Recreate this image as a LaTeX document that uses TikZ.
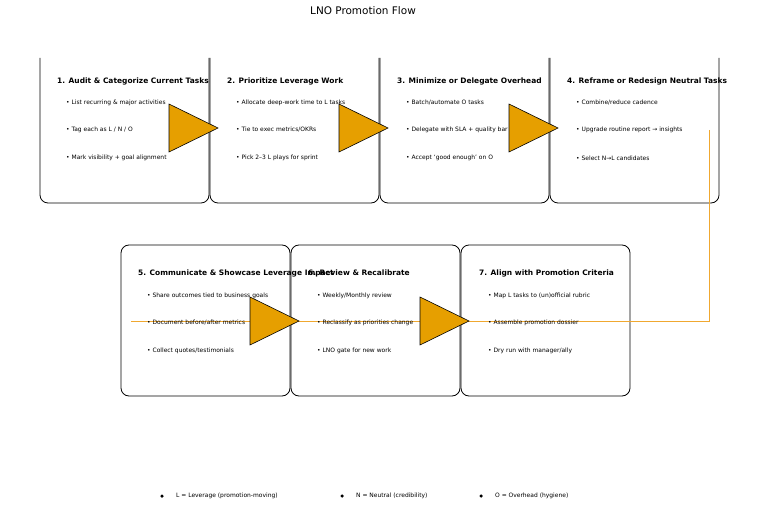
\documentclass[tikz,border=0pt]{standalone}
\usepackage{fontspec}
\setmainfont{DejaVu Sans}
\usetikzlibrary{positioning}
\definecolor{flowor}{HTML}{E69F00}
\definecolor{lineor}{HTML}{F0A830}
\begin{document}
\begin{tikzpicture}[
        x=1bp, y=-1bp,
        stepbox/.style = {draw, line width=0.8pt, rounded corners=8bp},
        head/.style = {anchor=west, font=\bfseries\fontsize{7.5}{9}\selectfont, inner sep=0pt},
        item/.style = {anchor=west, font=\fontsize{6}{7}\selectfont, inner sep=0pt},
        tri/.style = {draw, fill=flowor, line width=0.6pt},
        dot/.style = {circle, fill, minimum size=3.5bp, inner sep=0pt}
        ]
        \useasboundingbox (0,0) rectangle (768,524);
        \node[font=\fontsize{10.5}{12}\selectfont] (title) at (363,11) {LNO Promotion Flow};
%
% top row (open at the top)
        \foreach \x in {40,210,380,550} {
            \draw[stepbox] (\x,58) -- (\x,203) -- (\x+169,203) -- (\x+169,58);
        }
% bottom row
        \foreach \x in {121,291,461} {
            \draw[stepbox] (\x,245) rectangle (\x+169,396);
        }
%
% orange return line
        \coordinate (r1) at (709,130);
        \coordinate (r2) at (709,321);
        \coordinate (r3) at (131,321);
        \draw[lineor, line width=0.9pt] (r1) -- (r2) -- (r3);
%
        \node[head] (h1) at (57,81) {1. Audit \& Categorize Current Tasks};
        \node[item] at (66,103) {• List recurring \& major activities};
        \node[item] at (66,130) {• Tag each as L / N / O};
        \node[item] at (66,158) {• Mark visibility + goal alignment};
%
        \node[head] (h2) at (227,81) {2. Prioritize Leverage Work};
        \node[item] at (236,103) {• Allocate deep-work time to L tasks};
        \node[item] at (236,130) {• Tie to exec metrics/OKRs};
        \node[item] at (236,158) {• Pick 2–3 L plays for sprint};
%
        \node[head] (h3) at (397,81) {3. Minimize or Delegate Overhead};
        \node[item] at (406,103) {• Batch/automate O tasks};
        \node[item] at (406,130) {• Delegate with SLA + quality bar};
        \node[item] at (406,158) {• Accept ‘good enough’ on O};
%
        \node[head] (h4) at (567,81) {4. Reframe or Redesign Neutral Tasks};
        \node[item] at (576,103) {• Combine/reduce cadence};
        \node[item] at (576,130) {• Upgrade routine report → insights};
        \node[item] at (576,158) {• Select N→L candidates};
%
        \node[head] (h5) at (138,273) {5. Communicate \& Showcase Leverage Impact};
        \node[item] at (147,296) {• Share outcomes tied to business goals};
        \node[item] at (147,323) {• Document before/after metrics};
        \node[item] at (147,351) {• Collect quotes/testimonials};
%
        \node[head] (h6) at (308,273) {6. Review \& Recalibrate};
        \node[item] at (317,296) {• Weekly/Monthly review};
        \node[item] at (317,323) {• Reclassify as priorities change};
        \node[item] at (317,351) {• LNO gate for new work};
%
        \node[head] (h7) at (479,273) {7. Align with Promotion Criteria};
        \node[item] at (488,296) {• Map L tasks to (un)official rubric};
        \node[item] at (488,323) {• Assemble promotion dossier};
        \node[item] at (488,351) {• Dry run with manager/ally};
%
% arrow heads between steps
        \foreach \x/\y in {169/128,339/128,509/128,250/321,420/321} {
            \draw[tri] (\x,\y-24) -- (\x+49,\y) -- (\x,\y+24) -- cycle;
        }
%
% legend
        \node[dot] (d1) at (162,496) {};
        \node[item, right=12bp of d1] {L = Leverage (promotion-moving)};
        \node[dot] (d2) at (342,496) {};
        \node[item, right=12bp of d2] {N = Neutral (credibility)};
        \node[dot] (d3) at (481,496) {};
        \node[item, right=12bp of d3] {O = Overhead (hygiene)};
\end{tikzpicture}
\end{document}
